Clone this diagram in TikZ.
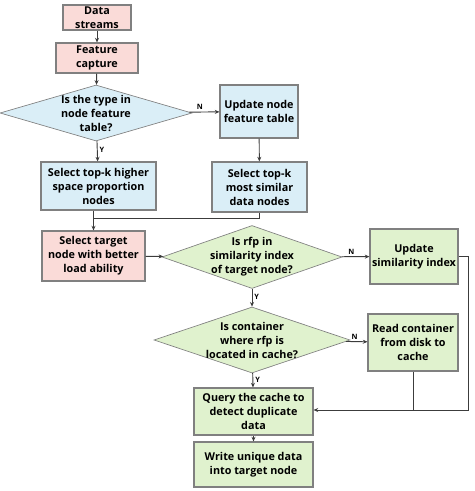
\documentclass[tikz,border=0pt]{standalone}
\usepackage{fontspec}
\setmainfont{Open Sans}
\usepackage{tikz}
\usetikzlibrary{shapes.geometric,arrows.meta}

\definecolor{boxpink}{RGB}{250,219,216}
\definecolor{boxblue}{RGB}{218,238,247}
\definecolor{boxgreen}{RGB}{224,242,206}
\definecolor{edgegray}{RGB}{128,128,128}
\definecolor{linegray}{RGB}{60,60,60}

\tikzset{
	stepbox/.style={draw=edgegray,line width=0.8pt,inner sep=0pt,align=center,font=\fontsize{8.1}{10.5}\selectfont\bfseries},
	decide/.style={draw=edgegray,line width=0.5pt,diamond,inner sep=0pt},
	decidetext/.style={inner sep=0pt,align=center,font=\fontsize{8.1}{10.5}\selectfont\bfseries},
	flow/.style={draw=linegray,line width=0.7pt,-{Stealth[length=3.5pt,width=3pt]}},
	plainflow/.style={draw=linegray,line width=0.7pt},
	yn/.style={font=\fontsize{5.5}{6}\selectfont\bfseries,inner sep=1.5pt}
}

\begin{document}
\begin{tikzpicture}[x=0.75pt,y=0.75pt,yscale=-1,xscale=1]
			%set diagram left start at 0, and has height of 491
			\useasboundingbox (0,0) rectangle (474,491);
			
			%Shape: Rectangle [id:ds]
			\node (ds) [stepbox,fill=boxpink,minimum width=51pt,minimum height=18.75pt] at (97,17.5) {Data\\streams};
			%Shape: Rectangle [id:fc]
			\node (fc) [stepbox,fill=boxpink,minimum width=61.5pt,minimum height=22.5pt] at (97,58) {Feature\\capture};
			%Shape: Diamond [id:d1]
			\node (d1) [decide,fill=boxblue,minimum width=144pt,minimum height=42pt] at (96,113) {};
			\node (d1t) [decidetext] at (d1) {Is the type in\\node feature\\table?};
			%Shape: Rectangle [id:unft]
			\node (unft) [stepbox,fill=boxblue,minimum width=58.5pt,minimum height=39.75pt] at (259,111.5) {Update node\\feature table};
			%Shape: Rectangle [id:sel1]
			\node (sel1) [stepbox,fill=boxblue,minimum width=86.25pt,minimum height=36pt] at (98.5,186) {Select top-k higher\\space proportion\\nodes};
			%Shape: Rectangle [id:sel2]
			\node (sel2) [stepbox,fill=boxblue,minimum width=71.25pt,minimum height=37.5pt] at (259.5,187) {Select top-k\\most similar\\data nodes};
			%Shape: Rectangle [id:tgt]
			\node (tgt) [stepbox,fill=boxpink,minimum width=77.25pt,minimum height=37.5pt] at (93.5,256) {Select target\\node with better\\load ability};
			%Shape: Diamond [id:d2]
			\node (d2) [decide,fill=boxgreen,minimum width=135pt,minimum height=47.25pt] at (252,257) {};
			\node (d2t) [decidetext] at (d2) {Is rfp in\\similarity index\\of target node?};
			%Shape: Rectangle [id:usi]
			\node (usi) [stepbox,fill=boxgreen,minimum width=66pt,minimum height=41.25pt] at (414,256.5) {Update\\similarity index};
			%Shape: Diamond [id:d3]
			\node (d3) [decide,fill=boxgreen,minimum width=147pt,minimum height=49.5pt] at (252,340) {};
			\node (d3t) [decidetext] at (d3) {Is container\\where rfp is\\located in cache?};
			%Shape: Rectangle [id:rc]
			\node (rc) [stepbox,fill=boxgreen,minimum width=67.5pt,minimum height=42.75pt] at (413,342.5) {Read container\\from disk to\\cache};
			%Shape: Rectangle [id:qc]
			\node (qc) [stepbox,fill=boxgreen,minimum width=89.25pt,minimum height=35.25pt] at (253.5,411.5) {Query the cache to\\detect duplicate\\data};
			%Shape: Rectangle [id:wu]
			\node (wu) [stepbox,fill=boxgreen,minimum width=89.25pt,minimum height=33.75pt] at (253.5,464.5) {Write unique data\\into target node};
			
			%Straight Lines [id:joins]
			\coordinate (j1) at (94,218);
			\coordinate (j2) at (468,410);
			
			%Straight Lines [id:arrows]
			\draw [flow] (ds) -- (fc);
			\draw [flow] (fc) -- (d1);
			\draw [flow] (d1) -- node (n1) [yn,above,pos=0.35] {N} (unft);
			\draw [flow] (d1) -- node (y1) [yn,right,pos=0.45] {Y} (sel1);
			\draw [flow] (unft) -- (sel2);
			\draw [flow] (tgt.north |- sel1.south) -- (tgt.north);
			\draw [plainflow] (sel2.south) |- (j1);
			\draw [flow] (tgt) -- (d2);
			\draw [flow] (d2) -- node (n2) [yn,above,pos=0.35] {N} (usi);
			\draw [flow] (d2) -- node (y2) [yn,right,pos=0.45] {Y} (d3);
			\draw [flow] (d3) -- node (n3) [yn,above,pos=0.4] {N} (rc);
			\draw [flow] (d3) -- node (y3) [yn,right,pos=0.45] {Y} (qc);
			\draw [flow] (usi.east) -| (j2) -- (j2 -| qc.east);
			\draw [plainflow] (rc.south) -- (rc.south |- j2);
			\draw [flow] (qc) -- (wu);
			
			\end{tikzpicture}
\end{document}
